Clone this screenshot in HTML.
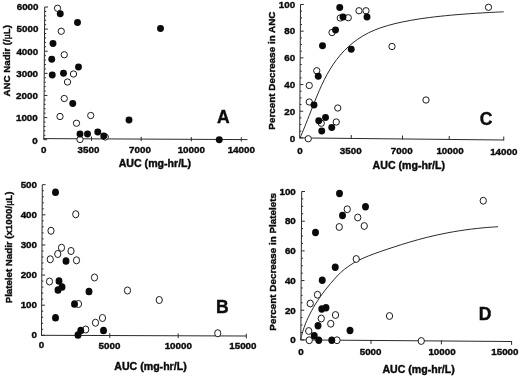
<!DOCTYPE html>
<html><head><meta charset="utf-8"><title>Figure</title>
<style>
html,body{margin:0;padding:0;background:#fff}
svg{display:block;filter:blur(0.22px)}
text{font-family:"Liberation Sans",sans-serif;font-weight:bold;fill:#0c0c0c;stroke:#0c0c0c;stroke-width:0.4px}
.tk text{font-size:9.8px}
.ti{font-size:10.6px}
.ty{font-size:9.8px}
.lt{font-size:17.5px}
</style></head><body>
<svg width="520" height="376" viewBox="0 0 520 376">
<rect width="520" height="376" fill="#fff"/>
<g stroke="#2a2a2a" stroke-width="1" fill="none" stroke-linecap="butt">
<path d="M44.7 7L43.8 139.7M43.3 138.6L247.5 139.6"/>
<path d="M43.8 139.7h3.3M43.83 135.28h1.6M43.86 130.85h1.6M43.89 126.43h1.6M43.92 122.01h1.6M43.95 117.58h3.3M43.98 113.16h1.6M44.01 108.74h1.6M44.04 104.31h1.6M44.07 99.89h1.6M44.1 95.47h3.3M44.13 91.04h1.6M44.16 86.62h1.6M44.19 82.2h1.6M44.22 77.77h1.6M44.25 73.35h3.3M44.28 68.93h1.6M44.31 64.5h1.6M44.34 60.08h1.6M44.37 55.66h1.6M44.4 51.23h3.3M44.43 46.81h1.6M44.46 42.39h1.6M44.49 37.96h1.6M44.52 33.54h1.6M44.55 29.12h3.3M44.58 24.69h1.6M44.61 20.27h1.6M44.64 15.85h1.6M44.67 11.42h1.6M44.7 7h3.3M91.5 140.83v-4.3M141.2 141.08v-4.3M191.3 141.32v-4.3M241.3 141.57v-4.3"/>
</g>
<g fill="#fff" stroke="#1c1c1c" stroke-width="1">
<ellipse cx="57.5" cy="8.25" rx="3.15" ry="3.15"/>
<ellipse cx="61.25" cy="31.25" rx="3.15" ry="3.15"/>
<ellipse cx="64.25" cy="54.75" rx="3.15" ry="3.15"/>
<ellipse cx="73.5" cy="74" rx="3.15" ry="3.15"/>
<ellipse cx="67.5" cy="82" rx="3.15" ry="3.15"/>
<ellipse cx="64.25" cy="98.5" rx="3.15" ry="3.15"/>
<ellipse cx="60" cy="116.5" rx="3.15" ry="3.15"/>
<ellipse cx="90.75" cy="115.5" rx="3.15" ry="3.15"/>
<ellipse cx="76.5" cy="123.25" rx="3.15" ry="3.15"/>
<ellipse cx="105.25" cy="137" rx="3.15" ry="3.15"/>
<ellipse cx="80" cy="139.5" rx="3.15" ry="3.15"/>
</g>
<g fill="#0a0a0a">
<ellipse cx="60.25" cy="13.75" rx="3.45" ry="3.45"/>
<ellipse cx="77.5" cy="22.5" rx="3.45" ry="3.45"/>
<ellipse cx="53" cy="43.5" rx="3.45" ry="3.45"/>
<ellipse cx="51.75" cy="59.25" rx="3.45" ry="3.45"/>
<ellipse cx="78.5" cy="67" rx="3.45" ry="3.45"/>
<ellipse cx="52.25" cy="75" rx="3.45" ry="3.45"/>
<ellipse cx="63.5" cy="73.25" rx="3.45" ry="3.45"/>
<ellipse cx="72.75" cy="103.5" rx="3.45" ry="3.45"/>
<ellipse cx="80" cy="134" rx="3.45" ry="3.45"/>
<ellipse cx="87.5" cy="134" rx="3.45" ry="3.45"/>
<ellipse cx="97.75" cy="132" rx="3.45" ry="3.45"/>
<ellipse cx="103.75" cy="136" rx="3.45" ry="3.45"/>
<ellipse cx="129" cy="120" rx="3.45" ry="3.45"/>
<ellipse cx="160.5" cy="28.5" rx="3.45" ry="3.45"/>
<ellipse cx="219.25" cy="139.75" rx="3.45" ry="3.45"/>
</g>
<g class="tk" text-anchor="end">
<text x="37.6" y="143.7">0</text>
<text x="37.75" y="121.42">1000</text>
<text x="37.9" y="99.13">2000</text>
<text x="38.05" y="76.85">3000</text>
<text x="38.2" y="54.57">4000</text>
<text x="38.35" y="32.28">5000</text>
<text x="38.5" y="10">6000</text>
</g>
<g class="tk" text-anchor="middle">
<text x="43.75" y="152.8">0</text>
<text x="88.5" y="152.87">3500</text>
<text x="140" y="152.94">7000</text>
<text x="191.25" y="153.02">10000</text>
<text x="241.25" y="153.09">14000</text>
</g>
<text class="ti" text-anchor="middle" x="154.9" y="167.4">AUC (mg-hr/L)</text>
<text class="ty" style="font-size:9.7px" text-anchor="middle" transform="translate(9.7 60.7) rotate(-90)">ANC Nadir (/<tspan font-family="'Liberation Serif','DejaVu Serif',serif" font-weight="normal">μ</tspan>L)</text>
<text class="lt" text-anchor="middle" x="223.2" y="122.8">A</text>
<g stroke="#2a2a2a" stroke-width="1" fill="none" stroke-linecap="butt">
<path d="M42.3 184.7L41.5 335.3M41 335.3L246.3 336"/>
<path d="M41.5 335.3h3.3M41.53 329.28h1.6M41.56 323.25h1.6M41.6 317.23h1.6M41.63 311.2h1.6M41.66 305.18h3.3M41.69 299.16h1.6M41.72 293.13h1.6M41.76 287.11h1.6M41.79 281.08h1.6M41.82 275.06h3.3M41.85 269.04h1.6M41.88 263.01h1.6M41.92 256.99h1.6M41.95 250.96h1.6M41.98 244.94h3.3M42.01 238.92h1.6M42.04 232.89h1.6M42.08 226.87h1.6M42.11 220.84h1.6M42.14 214.82h3.3M42.17 208.8h1.6M42.2 202.77h1.6M42.24 196.75h1.6M42.27 190.72h1.6M42.3 184.7h3.3M109.8 337.93v-4.7M178.2 338.17v-4.7M246.3 338.4v-4.7"/>
</g>
<g fill="#fff" stroke="#1c1c1c" stroke-width="1">
<ellipse cx="75.75" cy="214.25" rx="3.1" ry="3.55"/>
<ellipse cx="51" cy="230.75" rx="3.1" ry="3.55"/>
<ellipse cx="61.5" cy="247.75" rx="3.1" ry="3.55"/>
<ellipse cx="71" cy="251" rx="3.1" ry="3.55"/>
<ellipse cx="57.75" cy="254" rx="3.1" ry="3.55"/>
<ellipse cx="50.25" cy="259.3" rx="3.1" ry="3.55"/>
<ellipse cx="76.5" cy="260.3" rx="3.1" ry="3.55"/>
<ellipse cx="49.5" cy="281.5" rx="3.1" ry="3.55"/>
<ellipse cx="94.5" cy="277.5" rx="3.1" ry="3.55"/>
<ellipse cx="127.5" cy="290.5" rx="3.1" ry="3.55"/>
<ellipse cx="78.5" cy="304" rx="3.1" ry="3.55"/>
<ellipse cx="102.5" cy="318" rx="3.1" ry="3.55"/>
<ellipse cx="95.5" cy="322.75" rx="3.1" ry="3.55"/>
<ellipse cx="85.75" cy="329.5" rx="3.1" ry="3.55"/>
<ellipse cx="159.25" cy="300" rx="3.1" ry="3.55"/>
<ellipse cx="217.75" cy="333.25" rx="3.1" ry="3.55"/>
</g>
<g fill="#0a0a0a">
<ellipse cx="55.5" cy="192.25" rx="3.45" ry="3.85"/>
<ellipse cx="66" cy="261" rx="3.45" ry="3.85"/>
<ellipse cx="59" cy="281" rx="3.45" ry="3.85"/>
<ellipse cx="62" cy="287" rx="3.45" ry="3.85"/>
<ellipse cx="58" cy="290" rx="3.45" ry="3.85"/>
<ellipse cx="89" cy="291.5" rx="3.45" ry="3.85"/>
<ellipse cx="74.5" cy="304" rx="3.45" ry="3.85"/>
<ellipse cx="55.5" cy="317.75" rx="3.45" ry="3.85"/>
<ellipse cx="80.75" cy="330.5" rx="3.45" ry="3.85"/>
<ellipse cx="78" cy="335" rx="3.45" ry="3.85"/>
<ellipse cx="103.5" cy="330.5" rx="3.45" ry="3.85"/>
</g>
<g class="tk" text-anchor="end">
<text x="37" y="338.1">0</text>
<text x="37" y="308.04">100</text>
<text x="37" y="277.98">200</text>
<text x="37" y="247.92">300</text>
<text x="37" y="217.86">400</text>
<text x="37" y="187.8">500</text>
</g>
<g class="tk" text-anchor="middle">
<text x="41.5" y="348.4">0</text>
<text x="109.5" y="348.67">5000</text>
<text x="178.25" y="348.93">10000</text>
<text x="242.9" y="349.19">15000</text>
</g>
<text class="ti" text-anchor="middle" x="150.5" y="370">AUC (mg-hr/L)</text>
<text class="ty" style="font-size:9.7px" text-anchor="middle" transform="translate(12 247.4) rotate(-90)">Platelet Nadir (x1000/<tspan font-family="'Liberation Serif','DejaVu Serif',serif" font-weight="normal">μ</tspan>L)</text>
<text class="lt" text-anchor="middle" x="222.2" y="313.1">B</text>
<g stroke="#2a2a2a" stroke-width="1" fill="none" stroke-linecap="butt">
<path d="M300.5 4.5L299.7 137.9M299.2 137.9L503.75 140"/>
<path d="M299.7 137.9h3.3M299.74 131.23h1.6M299.78 124.56h1.6M299.82 117.89h1.6M299.86 111.22h3.3M299.9 104.55h1.6M299.94 97.88h1.6M299.98 91.21h1.6M300.02 84.54h3.3M300.06 77.87h1.6M300.1 71.2h1.6M300.14 64.53h1.6M300.18 57.86h3.3M300.22 51.19h1.6M300.26 44.52h1.6M300.3 37.85h1.6M300.34 31.18h3.3M300.38 24.51h1.6M300.42 17.84h1.6M300.46 11.17h1.6M300.5 4.5h3.3M351.25 138.93v-3.9M402.5 139.46v-3.9M449.25 139.94v-3.9M503.75 140.5v-3.9"/>
<path d="M300 138C300.18 137.59 300.7 136.41 301.07 135.56C301.44 134.71 301.82 133.82 302.21 132.89C302.6 131.95 303.01 130.98 303.43 129.95C303.85 128.92 304.3 127.84 304.75 126.72C305.2 125.6 305.67 124.43 306.15 123.21C306.63 121.99 307.13 120.72 307.65 119.41C308.17 118.09 308.71 116.73 309.27 115.32C309.83 113.91 310.39 112.44 310.99 110.93C311.59 109.42 312.2 107.85 312.84 106.24C313.48 104.63 314.14 102.96 314.82 101.26C315.5 99.56 316.21 97.8 316.94 96.04C317.67 94.28 318.42 92.48 319.21 90.68C320 88.88 320.81 87.05 321.65 85.24C322.49 83.43 323.35 81.61 324.25 79.82C325.15 78.03 326.09 76.24 327.05 74.49C328.01 72.74 329.01 71.01 330.04 69.32C331.07 67.63 332.13 65.97 333.24 64.34C334.35 62.71 335.49 61.12 336.67 59.56C337.86 58 339.08 56.47 340.35 54.99C341.62 53.51 342.92 52.06 344.28 50.66C345.64 49.26 347.04 47.89 348.5 46.57C349.96 45.25 351.46 43.97 353.02 42.73C354.58 41.49 356.19 40.29 357.86 39.14C359.53 37.99 361.25 36.88 363.04 35.82C364.83 34.76 366.67 33.75 368.59 32.79C370.51 31.83 372.49 30.93 374.54 30.08C376.59 29.23 378.7 28.45 380.9 27.69C383.1 26.94 385.38 26.23 387.73 25.55C390.09 24.87 392.51 24.23 395.03 23.62C397.55 23.01 400.16 22.42 402.86 21.86C405.56 21.3 408.35 20.76 411.24 20.25C414.13 19.74 417.12 19.25 420.22 18.79C423.32 18.32 426.52 17.88 429.84 17.46C433.16 17.04 436.58 16.64 440.14 16.26C443.7 15.88 447.37 15.52 451.18 15.17C454.99 14.82 458.92 14.5 463 14.19C467.08 13.88 471.29 13.59 475.66 13.31C480.03 13.03 484.54 12.76 489.22 12.51C493.9 12.26 501.33 11.92 503.75 11.8" stroke-width="1"/>
</g>
<g fill="#fff" stroke="#1c1c1c" stroke-width="1">
<ellipse cx="359" cy="10.75" rx="3.15" ry="3.15"/>
<ellipse cx="366" cy="10.75" rx="3.15" ry="3.15"/>
<ellipse cx="340.25" cy="18" rx="3.15" ry="3.15"/>
<ellipse cx="348.25" cy="17.75" rx="3.15" ry="3.15"/>
<ellipse cx="332" cy="32.5" rx="3.15" ry="3.15"/>
<ellipse cx="392" cy="46.5" rx="3.15" ry="3.15"/>
<ellipse cx="316.75" cy="70.75" rx="3.15" ry="3.15"/>
<ellipse cx="309.25" cy="85.5" rx="3.15" ry="3.15"/>
<ellipse cx="309.25" cy="102" rx="3.15" ry="3.15"/>
<ellipse cx="337.75" cy="108" rx="3.15" ry="3.15"/>
<ellipse cx="321.25" cy="123.25" rx="3.15" ry="3.15"/>
<ellipse cx="336.25" cy="122" rx="3.15" ry="3.15"/>
<ellipse cx="308.25" cy="138.75" rx="3.15" ry="3.15"/>
<ellipse cx="488.5" cy="7.3" rx="3.15" ry="3.15"/>
<ellipse cx="426" cy="100" rx="3.15" ry="3.15"/>
</g>
<g fill="#0a0a0a">
<ellipse cx="339.75" cy="7.5" rx="3.45" ry="3.45"/>
<ellipse cx="367" cy="17" rx="3.45" ry="3.45"/>
<ellipse cx="343" cy="17" rx="3.45" ry="3.45"/>
<ellipse cx="335.5" cy="30" rx="3.45" ry="3.45"/>
<ellipse cx="322.5" cy="45.75" rx="3.45" ry="3.45"/>
<ellipse cx="351.25" cy="49.25" rx="3.45" ry="3.45"/>
<ellipse cx="318.25" cy="76.25" rx="3.45" ry="3.45"/>
<ellipse cx="314" cy="105" rx="3.45" ry="3.45"/>
<ellipse cx="325.5" cy="117.5" rx="3.45" ry="3.45"/>
<ellipse cx="318.75" cy="120.75" rx="3.45" ry="3.45"/>
<ellipse cx="331.75" cy="127.5" rx="3.45" ry="3.45"/>
<ellipse cx="321.75" cy="131" rx="3.45" ry="3.45"/>
</g>
<g class="tk" text-anchor="end">
<text x="295.2" y="141.7">0</text>
<text x="295.2" y="114.88">20</text>
<text x="295.2" y="88.06">40</text>
<text x="295.2" y="61.24">60</text>
<text x="295.2" y="34.42">80</text>
<text x="295.2" y="7.6">100</text>
</g>
<g class="tk" text-anchor="middle">
<text x="300" y="153.7">0</text>
<text x="350.75" y="153.95">3500</text>
<text x="401.75" y="154.2">7000</text>
<text x="450" y="154.44">10000</text>
<text x="503.75" y="154.7">14000</text>
</g>
<text class="ti" text-anchor="middle" x="408.8" y="168.8">AUC (mg-hr/L)</text>
<text class="ty" style="font-size:9.9px" text-anchor="middle" transform="translate(275.1 70.6) rotate(-90)">Percent Decrease in ANC</text>
<text class="lt" text-anchor="middle" x="486" y="124.8">C</text>
<g stroke="#2a2a2a" stroke-width="1" fill="none" stroke-linecap="butt">
<path d="M301.7 191.5L300.8 339.9M300.3 339.9L511.6 341.5"/>
<path d="M300.8 339.9h3.3M300.85 332.48h1.6M300.89 325.06h1.6M300.94 317.64h1.6M300.98 310.22h3.3M301.02 302.8h1.6M301.07 295.38h1.6M301.12 287.96h1.6M301.16 280.54h3.3M301.2 273.12h1.6M301.25 265.7h1.6M301.3 258.28h1.6M301.34 250.86h3.3M301.38 243.44h1.6M301.43 236.02h1.6M301.48 228.6h1.6M301.52 221.18h3.3M301.56 213.76h1.6M301.61 206.34h1.6M301.65 198.92h1.6M301.7 191.5h3.3M371 343.83v-3.9M441.4 344.37v-3.9M511.6 344.9v-3.9"/>
<path d="M300.6 340C300.78 339.23 301.31 336.85 301.68 335.4C302.05 333.95 302.44 332.61 302.84 331.29C303.24 329.97 303.64 328.72 304.07 327.5C304.5 326.28 304.94 325.11 305.4 323.95C305.86 322.79 306.32 321.68 306.81 320.56C307.3 319.44 307.8 318.36 308.32 317.26C308.84 316.16 309.38 315.06 309.94 313.96C310.5 312.86 311.07 311.77 311.67 310.66C312.27 309.56 312.88 308.44 313.52 307.33C314.16 306.22 314.81 305.11 315.49 303.99C316.17 302.88 316.88 301.76 317.61 300.64C318.34 299.52 319.09 298.4 319.87 297.28C320.65 296.16 321.46 295.03 322.29 293.9C323.12 292.77 323.98 291.64 324.87 290.49C325.76 289.34 326.68 288.19 327.63 287.02C328.58 285.85 329.57 284.67 330.59 283.47C331.61 282.27 332.66 281.03 333.75 279.8C334.84 278.57 335.96 277.3 337.13 276.08C338.3 274.86 339.49 273.65 340.74 272.49C341.99 271.33 343.28 270.21 344.61 269.14C345.94 268.07 347.31 267.06 348.74 266.08C350.17 265.1 351.64 264.17 353.16 263.28C354.68 262.38 356.25 261.54 357.88 260.71C359.51 259.88 361.2 259.09 362.94 258.3C364.68 257.51 366.48 256.75 368.34 256C370.2 255.25 372.13 254.52 374.12 253.78C376.11 253.04 378.17 252.31 380.3 251.57C382.43 250.83 384.62 250.09 386.9 249.33C389.18 248.57 391.53 247.8 393.97 247.01C396.41 246.22 398.91 245.41 401.52 244.59C404.12 243.78 406.81 242.94 409.6 242.12C412.39 241.3 415.25 240.47 418.23 239.65C421.21 238.84 424.28 238.02 427.47 237.23C430.66 236.44 433.94 235.66 437.35 234.92C440.76 234.17 444.27 233.44 447.91 232.76C451.55 232.07 455.31 231.42 459.2 230.81C463.09 230.2 467.11 229.62 471.28 229.11C475.44 228.6 479.74 228.13 484.19 227.73C488.64 227.33 495.7 226.88 498 226.71" stroke-width="1"/>
</g>
<g fill="#fff" stroke="#1c1c1c" stroke-width="1">
<ellipse cx="347.25" cy="209.25" rx="3.15" ry="3.45"/>
<ellipse cx="357.75" cy="217.5" rx="3.15" ry="3.45"/>
<ellipse cx="364.25" cy="226" rx="3.15" ry="3.45"/>
<ellipse cx="339.25" cy="227" rx="3.15" ry="3.45"/>
<ellipse cx="356.25" cy="259" rx="3.15" ry="3.45"/>
<ellipse cx="317.5" cy="294.75" rx="3.15" ry="3.45"/>
<ellipse cx="310.25" cy="303.5" rx="3.15" ry="3.45"/>
<ellipse cx="335.5" cy="315" rx="3.15" ry="3.45"/>
<ellipse cx="321.25" cy="318.5" rx="3.15" ry="3.45"/>
<ellipse cx="389.5" cy="316" rx="3.15" ry="3.45"/>
<ellipse cx="330.75" cy="323.75" rx="3.15" ry="3.45"/>
<ellipse cx="308.75" cy="331" rx="3.15" ry="3.45"/>
<ellipse cx="309.25" cy="340.25" rx="3.15" ry="3.45"/>
<ellipse cx="337" cy="340.25" rx="3.15" ry="3.45"/>
<ellipse cx="483.25" cy="200.75" rx="3.15" ry="3.45"/>
<ellipse cx="421.25" cy="341" rx="3.15" ry="3.45"/>
</g>
<g fill="#0a0a0a">
<ellipse cx="339.5" cy="193.5" rx="3.45" ry="3.7"/>
<ellipse cx="365.5" cy="206.75" rx="3.45" ry="3.7"/>
<ellipse cx="342.5" cy="215.5" rx="3.45" ry="3.7"/>
<ellipse cx="315.5" cy="232.5" rx="3.45" ry="3.7"/>
<ellipse cx="335.25" cy="267.25" rx="3.45" ry="3.7"/>
<ellipse cx="322.25" cy="280.25" rx="3.45" ry="3.7"/>
<ellipse cx="326" cy="307.75" rx="3.45" ry="3.7"/>
<ellipse cx="321.75" cy="309" rx="3.45" ry="3.7"/>
<ellipse cx="318" cy="325.75" rx="3.45" ry="3.7"/>
<ellipse cx="350" cy="330.5" rx="3.45" ry="3.7"/>
<ellipse cx="314.25" cy="335.75" rx="3.45" ry="3.7"/>
<ellipse cx="318.75" cy="340.25" rx="3.45" ry="3.7"/>
<ellipse cx="331.75" cy="340.25" rx="3.45" ry="3.7"/>
</g>
<g class="tk" text-anchor="end">
<text x="295.8" y="343.4">0</text>
<text x="295.8" y="313.62">20</text>
<text x="295.8" y="283.84">40</text>
<text x="295.8" y="254.06">60</text>
<text x="295.8" y="224.28">80</text>
<text x="295.8" y="194.5">100</text>
</g>
<g class="tk" text-anchor="middle">
<text x="301" y="354.6">0</text>
<text x="370.6" y="354.86">5000</text>
<text x="442" y="355.14">10000</text>
<text x="504.9" y="355.37">15000</text>
</g>
<text class="ti" text-anchor="middle" x="418.6" y="372.6">AUC (mg-hr/L)</text>
<text class="ty" style="font-size:9.9px" text-anchor="middle" transform="translate(275.8 261.8) rotate(-90)">Percent Decrease in Platelets</text>
<text class="lt" text-anchor="middle" x="485" y="319.6">D</text>
</svg>
</body></html>
